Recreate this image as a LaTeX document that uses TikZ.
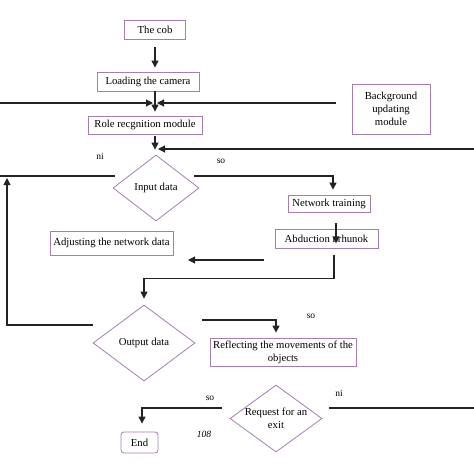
\documentclass[tikz,border=0pt]{standalone}
\usepackage{fontspec}
\setmainfont{Liberation Serif}
\usetikzlibrary{shapes.geometric,arrows.meta}
\definecolor{cframe}{RGB}{165,125,175}
\definecolor{cline}{RGB}{35,35,35}
\tikzset{flow/.style={x=1pt,y=-1pt,font=\fontsize{10.7}{12.8}\selectfont},
  box/.style={draw=cframe,line width=0.8pt,inner sep=1pt,minimum height=19pt},
  decision/.style={diamond,draw=cframe,line width=0.8pt,inner sep=0pt},
  conn/.style={cline,line width=1.1pt},
  arr/.style={conn,-{Triangle[length=7pt,width=7pt]}},
  tag/.style={font=\fontsize{9.5}{11}\selectfont}}

\begin{document}
\begin{tikzpicture}[flow]
    \useasboundingbox (0,0) rectangle (474,474);
    \node[box,minimum width=61pt] (cob) at (155,29.5) {The cob};
    \node[box,minimum width=102pt] (load) at (148,81.5) {Loading the camera};
    \node[box,minimum width=114pt,minimum height=18pt] (role) at (145,125) {Role recgnition module};
    \node[box,minimum width=78pt,minimum height=50pt,align=center] (bkg) at (391,109) {Background\\updating\\module};
    \node[decision,minimum width=86pt,minimum height=66pt] (input) at (156,188) {Input data};
    \node[box,minimum width=82pt,minimum height=17pt] (train) at (329,203.5) {Network training};
    \node[box,minimum width=103pt] (abd) at (326.5,238.5) {Abduction nrhunok};
    \node[box,minimum width=123pt,minimum height=24pt] (adjust) at (111.5,243) {Adjusting the network data};
    \node[decision,minimum width=102pt,minimum height=76pt] (out) at (144,343) {Output data};
    \node[box,minimum width=146pt,minimum height=28pt,align=center] (refl) at (283,352) {Reflecting the movements of the\\objects};
    \node[decision,inner sep=-6pt,aspect=1.3,minimum width=92pt,minimum height=67pt,align=center] (exit) at (276,418.5) {Request for an\\exit};
    \node[box,rounded corners=3pt,minimum width=37pt,minimum height=21pt] (end) at (139.5,442.5) {End};
    % free ends
    \coordinate (meet) at (155,103);
    \coordinate (meet2) at (155,149);
    \coordinate (lin) at (0,103);
    \coordinate (bkgout) at (336,103);
    \coordinate (rin) at (474,149);
    \coordinate (inl) at (115,176);
    \coordinate (lend) at (0,176);
    \coordinate (loop) at (7,176);
    \coordinate (inr) at (194,176);
    \coordinate (fb) at (264,260);
    \coordinate (fbend) at (188,260);
    \coordinate (outl) at (93,325);
    \coordinate (outr) at (202,320);
    \coordinate (exl) at (222,408);
    \coordinate (exr) at (329,408);
    \coordinate (rout) at (474,408);
    \draw[arr,shorten <=8pt,shorten >=4pt] (cob.south) -- (cob.south |- load.north);
    \draw[arr,shorten >=4pt] (load.south -| cob.south) -- (cob.south |- role.north);
    \draw[arr,shorten >=2pt] (lin) -- (meet);
    \draw[arr,shorten >=2pt] (bkgout) -- (meet);
    \draw[arr,shorten <=2pt,shorten >=5pt] (role.south -| meet) -- (input.north -| meet);
    \draw[arr,shorten >=3pt] (rin) -- (meet2);
    \draw[conn] (inl) -- (lend);
    \draw[arr,shorten >=2pt] (outl) -| (loop);
    \draw[arr,shorten >=5pt] (inr) -| ([xshift=4pt]train.north);
    \draw[arr,shorten <=11pt] ([xshift=7pt]train.south) -- ++(0,31);
    \draw[arr,shorten <=7pt,shorten >=6pt] ([xshift=7.5pt]abd.south) -- ++(0,30) -| (out.north);
    \draw[arr] (fb) -- (fbend);
    \draw[arr,shorten >=5pt] (outr) -| ([xshift=-7pt]refl.north);
    \draw[arr,shorten >=8pt] (exl) -| ([xshift=2.5pt]end.north);
    \draw[conn] (exr) -- (rout);
    \node[tag] (ni1) at (100,156) {ni};
    \node[tag] (so1) at (221,161) {so};
    \node[tag] (so2) at (311,316) {so};
    \node[tag] (ni2) at (339,393) {ni};
    \node[tag] (so3) at (210,398) {so};
    \node[tag,font=\fontsize{9.5}{11}\selectfont\itshape] (num) at (204,434) {108};
\end{tikzpicture}
\end{document}
